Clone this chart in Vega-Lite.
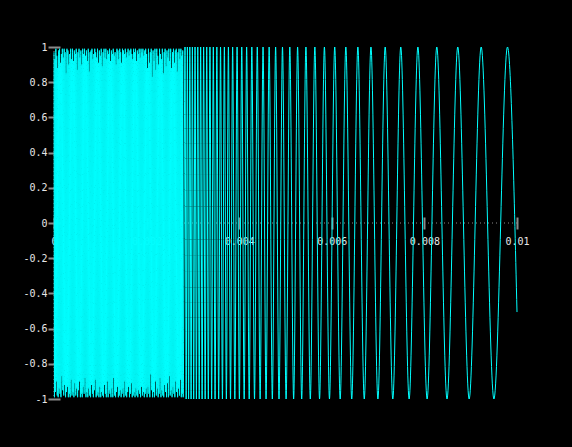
{
"$schema": "https://vega.github.io/schema/vega-lite/v6.json",
"width": 463, "height": 352,
"autosize": {"type": "none"},
"padding": {"left": 54, "top": 47, "right": 55, "bottom": 48},
"background": "#000000",
"config": {"view": {"stroke": null}},
"layer": [
{"data": {"values": [{}]}, "mark": {"type": "rule", "stroke": "#8a8a8a", "strokeDash": [1, 3], "strokeWidth": 1}, "encoding": {"y": {"datum": 0, "type": "quantitative", "scale": {"domain": [-1, 1], "nice": false, "zero": false},
 "axis": {"values": [-1, -0.8, -0.6, -0.4, -0.2, 0, 0.2, 0.4, 0.6, 0.8, 1], "domain": false, "grid": false, "tickSize": 12, "tickWidth": 2, "tickColor": "#8a8a8a", "offset": -6, "labelFont": "DejaVu Sans Mono", "labelFontSize": 10, "labelColor": "#e6e6e6", "labelPadding": 1, "labelFlush": false, "labelOverlap": false, "labelExpr": "datum.value < 0 ? '-' + format(-datum.value, '~g') : format(datum.value, '~g')", "title": null}}}},
{"data": {"values": [{}]}, "mark": {"type": "rule", "stroke": "#8a8a8a", "strokeDash": [1, 3], "strokeWidth": 1}, "encoding": {"x": {"datum": 0, "type": "quantitative", "scale": {"domain": [0, 0.01], "nice": false, "zero": false},
 "axis": {"values": [0, 0.002, 0.004, 0.006, 0.008, 0.01], "domain": false, "grid": false, "tickSize": 12, "tickWidth": 2, "tickColor": "#8a8a8a", "offset": -182, "labelFont": "DejaVu Sans Mono", "labelFontSize": 10, "labelColor": "#e6e6e6", "labelPadding": 7, "labelFlush": false, "labelOverlap": false, "labelExpr": "format(datum.value, '~g')", "title": null}}}},
{"data": {"values": [
{"x":0.00000,"y":0.97},{"x":0.00001,"y":-0.99},{"x":0.00002,"y":0.93},{"x":0.00003,"y":-0.96},{"x":0.00004,"y":0.99},{"x":0.00005,"y":-0.9},{"x":0.00006,"y":0.95},{"x":0.00007,"y":-0.98},{"x":0.00008,"y":0.88},{"x":0.00009,"y":-0.99},{"x":0.00010,"y":0.98},{"x":0.00011,"y":-0.94},{"x":0.00012,"y":0.99},{"x":0.00013,"y":-0.97},{"x":0.00014,"y":0.91},{"x":0.00015,"y":-0.99},{"x":0.00016,"y":0.96},{"x":0.00017,"y":-0.87},{"x":0.00018,"y":0.99},{"x":0.00019,"y":-0.95},
{"x":0.00020,"y":0.94},{"x":0.00021,"y":-0.98},{"x":0.00022,"y":0.99},{"x":0.00023,"y":-0.92},{"x":0.00024,"y":0.97},{"x":0.00025,"y":-0.99},{"x":0.00026,"y":0.85},{"x":0.00027,"y":-0.96},{"x":0.00028,"y":0.99},{"x":0.00029,"y":-0.93},{"x":0.00030,"y":0.98},{"x":0.00031,"y":-0.99},{"x":0.00032,"y":0.9},{"x":0.00033,"y":-0.97},{"x":0.00034,"y":0.96},{"x":0.00035,"y":-0.99},{"x":0.00036,"y":0.99},{"x":0.00037,"y":-0.89},{"x":0.00038,"y":0.93},{"x":0.00039,"y":-0.98},
{"x":0.00040,"y":0.99},{"x":0.00041,"y":-0.96},{"x":0.00042,"y":0.92},{"x":0.00043,"y":-0.99},{"x":0.00044,"y":0.98},{"x":0.00045,"y":-0.91},{"x":0.00046,"y":0.96},{"x":0.00047,"y":-0.98},{"x":0.00048,"y":0.99},{"x":0.00049,"y":-0.94},{"x":0.00050,"y":0.87},{"x":0.00051,"y":-0.99},{"x":0.00052,"y":0.97},{"x":0.00053,"y":-0.95},{"x":0.00054,"y":0.99},{"x":0.00055,"y":-0.9},{"x":0.00056,"y":0.94},{"x":0.00057,"y":-0.99},{"x":0.00058,"y":0.98},{"x":0.00059,"y":-0.97},
{"x":0.00060,"y":0.9},{"x":0.00061,"y":-0.99},{"x":0.00062,"y":0.99},{"x":0.00063,"y":-0.93},{"x":0.00064,"y":0.96},{"x":0.00065,"y":-0.97},{"x":0.00066,"y":0.99},{"x":0.00067,"y":-0.88},{"x":0.00068,"y":0.95},{"x":0.00069,"y":-0.99},{"x":0.00070,"y":0.98},{"x":0.00071,"y":-0.96},{"x":0.00072,"y":0.92},{"x":0.00073,"y":-0.99},{"x":0.00074,"y":0.99},{"x":0.00075,"y":-0.94},{"x":0.00076,"y":0.86},{"x":0.00077,"y":-0.98},{"x":0.00078,"y":0.97},{"x":0.00079,"y":-0.99},
{"x":0.00080,"y":0.98},{"x":0.00081,"y":-0.92},{"x":0.00082,"y":0.99},{"x":0.00083,"y":-0.97},{"x":0.00084,"y":0.93},{"x":0.00085,"y":-0.99},{"x":0.00086,"y":0.96},{"x":0.00087,"y":-0.95},{"x":0.00088,"y":0.99},{"x":0.00089,"y":-0.89},{"x":0.00090,"y":0.97},{"x":0.00091,"y":-0.99},{"x":0.00092,"y":0.94},{"x":0.00093,"y":-0.98},{"x":0.00094,"y":0.99},{"x":0.00095,"y":-0.96},{"x":0.00096,"y":0.91},{"x":0.00097,"y":-0.99},{"x":0.00098,"y":0.98},{"x":0.00099,"y":-0.93},
{"x":0.00100,"y":0.95},{"x":0.00101,"y":-0.99},{"x":0.00102,"y":0.99},{"x":0.00103,"y":-0.96},{"x":0.00104,"y":0.89},{"x":0.00105,"y":-0.98},{"x":0.00106,"y":0.97},{"x":0.00107,"y":-0.99},{"x":0.00108,"y":0.99},{"x":0.00109,"y":-0.92},{"x":0.00110,"y":0.94},{"x":0.00111,"y":-0.97},{"x":0.00112,"y":0.99},{"x":0.00113,"y":-0.99},{"x":0.00114,"y":0.93},{"x":0.00115,"y":-0.9},{"x":0.00116,"y":0.98},{"x":0.00117,"y":-0.99},{"x":0.00118,"y":0.96},{"x":0.00119,"y":-0.95},
{"x":0.00120,"y":0.99},{"x":0.00121,"y":-0.97},{"x":0.00122,"y":0.92},{"x":0.00123,"y":-0.99},{"x":0.00124,"y":0.98},{"x":0.00125,"y":-0.94},{"x":0.00126,"y":0.96},{"x":0.00127,"y":-0.99},{"x":0.00128,"y":0.99},{"x":0.00129,"y":-0.88},{"x":0.00130,"y":0.95},{"x":0.00131,"y":-0.98},{"x":0.00132,"y":0.97},{"x":0.00133,"y":-0.99},{"x":0.00134,"y":0.9},{"x":0.00135,"y":-0.96},{"x":0.00136,"y":0.99},{"x":0.00137,"y":-0.93},{"x":0.00138,"y":0.98},{"x":0.00139,"y":-0.99},
{"x":0.00140,"y":0.93},{"x":0.00141,"y":-0.98},{"x":0.00142,"y":0.99},{"x":0.00143,"y":-0.95},{"x":0.00144,"y":0.97},{"x":0.00145,"y":-0.99},{"x":0.00146,"y":0.91},{"x":0.00147,"y":-0.97},{"x":0.00148,"y":0.99},{"x":0.00149,"y":-0.94},{"x":0.00150,"y":0.98},{"x":0.00151,"y":-0.99},{"x":0.00152,"y":0.96},{"x":0.00153,"y":-0.9},{"x":0.00154,"y":0.99},{"x":0.00155,"y":-0.98},{"x":0.00156,"y":0.94},{"x":0.00157,"y":-0.99},{"x":0.00158,"y":0.97},{"x":0.00159,"y":-0.96},
{"x":0.00160,"y":0.99},{"x":0.00161,"y":-0.93},{"x":0.00162,"y":0.95},{"x":0.00163,"y":-0.99},{"x":0.00164,"y":0.98},{"x":0.00165,"y":-0.97},{"x":0.00166,"y":0.99},{"x":0.00167,"y":-0.91},{"x":0.00168,"y":0.96},{"x":0.00169,"y":-0.99},{"x":0.00170,"y":0.93},{"x":0.00171,"y":-0.98},{"x":0.00172,"y":0.99},{"x":0.00173,"y":-0.96},{"x":0.00174,"y":0.97},{"x":0.00175,"y":-0.99},{"x":0.00176,"y":0.99},{"x":0.00177,"y":-0.94},{"x":0.00178,"y":0.92},{"x":0.00179,"y":-0.98},
{"x":0.00180,"y":0.98},{"x":0.00181,"y":-0.99},{"x":0.00182,"y":0.96},{"x":0.00183,"y":-0.95},{"x":0.00184,"y":0.99},{"x":0.00185,"y":-0.97},{"x":0.00186,"y":0.94},{"x":0.00187,"y":-0.99},{"x":0.00188,"y":0.99},{"x":0.00189,"y":-0.93},{"x":0.00190,"y":0.97},{"x":0.00191,"y":-0.98},{"x":0.00192,"y":0.99},{"x":0.00193,"y":-0.96},{"x":0.00194,"y":0.95},{"x":0.00195,"y":-0.99},{"x":0.00196,"y":0.98},{"x":0.00197,"y":-0.97},{"x":0.00198,"y":0.99},{"x":0.00199,"y":-0.94},
{"x":0.00200,"y":0.96},{"x":0.00201,"y":-0.99},{"x":0.00202,"y":0.88},{"x":0.00203,"y":-0.93},{"x":0.00204,"y":0.99},{"x":0.00205,"y":-0.97},{"x":0.00206,"y":0.91},{"x":0.00207,"y":-0.99},{"x":0.00208,"y":0.97},{"x":0.00209,"y":-0.86},{"x":0.00210,"y":0.99},{"x":0.00211,"y":-0.95},{"x":0.00212,"y":0.83},{"x":0.00213,"y":-0.99},{"x":0.00214,"y":0.98},{"x":0.00215,"y":-0.96},{"x":0.00216,"y":0.92},{"x":0.00217,"y":-0.99},{"x":0.00218,"y":0.99},{"x":0.00219,"y":-0.9},
{"x":0.00220,"y":0.87},{"x":0.00221,"y":-0.98},{"x":0.00222,"y":0.99},{"x":0.00223,"y":-0.94},{"x":0.00224,"y":0.95},{"x":0.00225,"y":-0.99},{"x":0.00226,"y":0.9},{"x":0.00227,"y":-0.97},{"x":0.00228,"y":0.99},{"x":0.00229,"y":-0.88},{"x":0.00230,"y":0.96},{"x":0.00231,"y":-0.99},{"x":0.00232,"y":0.93},{"x":0.00233,"y":-0.95},{"x":0.00234,"y":0.99},{"x":0.00235,"y":-0.98},{"x":0.00236,"y":0.85},{"x":0.00237,"y":-0.99},{"x":0.00238,"y":0.97},{"x":0.00239,"y":-0.92},
{"x":0.00240,"y":0.99},{"x":0.00241,"y":-0.96},{"x":0.00242,"y":0.89},{"x":0.00243,"y":-0.99},{"x":0.00244,"y":0.98},{"x":0.00245,"y":-0.91},{"x":0.00246,"y":0.94},{"x":0.00247,"y":-0.99},{"x":0.00248,"y":0.99},{"x":0.00249,"y":-0.87},{"x":0.00250,"y":0.92},{"x":0.00251,"y":-0.98},{"x":0.00252,"y":0.99},{"x":0.00253,"y":-0.95},{"x":0.00254,"y":0.88},{"x":0.00255,"y":-0.99},{"x":0.00256,"y":0.97},{"x":0.00257,"y":-0.93},{"x":0.00258,"y":0.99},{"x":0.00259,"y":-0.97},
{"x":0.00260,"y":0.91},{"x":0.00261,"y":-0.99},{"x":0.00262,"y":0.98},{"x":0.00263,"y":-0.9},{"x":0.00264,"y":0.99},{"x":0.00265,"y":-0.96},{"x":0.00266,"y":0.86},{"x":0.00267,"y":-0.99},{"x":0.00268,"y":0.97},{"x":0.00269,"y":-0.94},{"x":0.00270,"y":0.99},{"x":0.00271,"y":-0.98},{"x":0.00272,"y":0.93},{"x":0.00273,"y":-0.89},{"x":0.00274,"y":0.99},{"x":0.00275,"y":-0.99},{"x":0.00276,"y":0.95},{"x":0.00277,"y":-0.97},{"x":0.00278,"y":0.98},{"x":0.00279,"y":-0.99},
{"x":0.0028294,"y":1},{"x":0.0028548,"y":-1},{"x":0.0028806,"y":1},{"x":0.0029069,"y":-1},
{"x":0.0029337,"y":1},{"x":0.0029610,"y":-1},{"x":0.0029888,"y":1},{"x":0.0030172,"y":-1},{"x":0.0030460,"y":1},{"x":0.0030755,"y":-1},{"x":0.0031055,"y":1},{"x":0.0031361,"y":-1},{"x":0.0031673,"y":1},{"x":0.0031991,"y":-1},
{"x":0.0032316,"y":1},{"x":0.0032647,"y":-1},{"x":0.0032985,"y":1},{"x":0.0033331,"y":-1},{"x":0.0033684,"y":1},{"x":0.0034044,"y":-1},{"x":0.0034412,"y":1},{"x":0.0034788,"y":-1},{"x":0.0035172,"y":1},{"x":0.0035565,"y":-1},
{"x":0.0035967,"y":1},{"x":0.0036378,"y":-1},{"x":0.0036799,"y":1},{"x":0.0037229,"y":-1},{"x":0.0037670,"y":1},{"x":0.0038121,"y":-1},{"x":0.0038583,"y":1},{"x":0.0039056,"y":-1},{"x":0.0039542,"y":1},{"x":0.0040039,"y":-1},
{"x":0.0040549,"y":1},{"x":0.0041072,"y":-1},{"x":0.0041609,"y":1},{"x":0.0042160,"y":-1},{"x":0.0042726,"y":1},{"x":0.0043307,"y":-1},{"x":0.0043905,"y":1},{"x":0.0044519,"y":-1},{"x":0.0045150,"y":1},{"x":0.0045800,"y":-1},
{"x":0.0046469,"y":1},{"x":0.0047157,"y":-1},{"x":0.0047866,"y":1},{"x":0.0048597,"y":-1},{"x":0.0049350,"y":1},{"x":0.0050128,"y":-1},{"x":0.0050930,"y":1},{"x":0.0051758,"y":-1},{"x":0.0052613,"y":1},{"x":0.0053497,"y":-1},
{"x":0.0054412,"y":1},{"x":0.0055358,"y":-1},{"x":0.0056338,"y":1},{"x":0.0057353,"y":-1},{"x":0.0058406,"y":1},{"x":0.0059497,"y":-1},{"x":0.0060630,"y":1},{"x":0.0061808,"y":-1},{"x":0.0063032,"y":1},{"x":0.0064305,"y":-1},
{"x":0.0065631,"y":1},{"x":0.0067013,"y":-1},{"x":0.0068454,"y":1},{"x":0.0069958,"y":-1},{"x":0.0071530,"y":1},{"x":0.0073175,"y":-1},{"x":0.0074896,"y":1},{"x":0.0076701,"y":-1},{"x":0.0078595,"y":1},{"x":0.0080585,"y":-1},
{"x":0.0082678,"y":1},{"x":0.0084883,"y":-1},{"x":0.0087208,"y":1},{"x":0.0089665,"y":-1},{"x":0.0092264,"y":1},{"x":0.0095018,"y":-1},{"x":0.0097941,"y":1},{"x":0.0100000,"y":-0.506}
]},
"mark": {"type": "line", "stroke": "#00ffff", "strokeWidth": 1, "interpolate": "monotone"},
"encoding": {
"x": {"field": "x", "type": "quantitative", "scale": {"domain": [0, 0.01], "nice": false, "zero": false},
 "axis": {"values": [0, 0.002, 0.004, 0.006, 0.008, 0.01], "domain": false, "grid": false, "tickSize": 12, "tickWidth": 2, "tickColor": "#8a8a8a", "offset": -182, "labelFont": "DejaVu Sans Mono", "labelFontSize": 10, "labelColor": "#e6e6e6", "labelPadding": 7, "labelFlush": false, "labelOverlap": false, "labelExpr": "format(datum.value, '~g')", "title": null}},
"y": {"field": "y", "type": "quantitative", "scale": {"domain": [-1, 1], "nice": false, "zero": false},
 "axis": {"values": [-1, -0.8, -0.6, -0.4, -0.2, 0, 0.2, 0.4, 0.6, 0.8, 1], "domain": false, "grid": false, "tickSize": 12, "tickWidth": 2, "tickColor": "#8a8a8a", "offset": -6, "labelFont": "DejaVu Sans Mono", "labelFontSize": 10, "labelColor": "#e6e6e6", "labelPadding": 1, "labelFlush": false, "labelOverlap": false, "labelExpr": "datum.value < 0 ? '-' + format(-datum.value, '~g') : format(datum.value, '~g')", "title": null}}
}}
]
}
